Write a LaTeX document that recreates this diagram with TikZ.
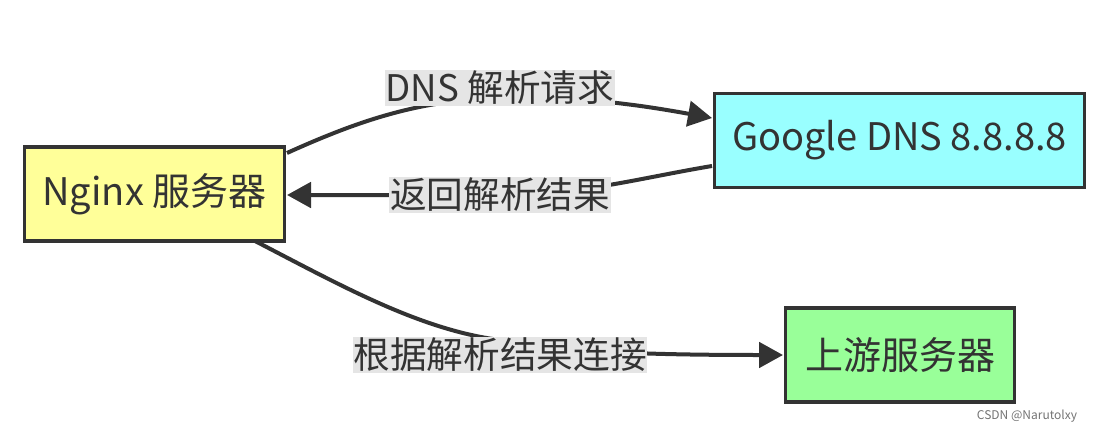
\documentclass[tikz,border=0pt]{standalone}
\usepackage{fontspec}
\setmainfont{Noto Sans CJK SC}
\usetikzlibrary{arrows.meta}
\begin{document}
\begin{tikzpicture}[x=0.75pt,y=-0.75pt,
  box/.style={draw=black!80,line width=2.4pt,minimum height=70.5pt,inner sep=0pt,font=\fontsize{28.5}{32}\selectfont,text=black!80},
  lbl/.style={fill=black!10,inner sep=0.5pt,font=\fontsize{27.5}{30}\selectfont,text=black!80},
  edge/.style={draw=black!80,line width=3pt,-{Triangle[length=18pt,width=19pt]}}]
\useasboundingbox (0,0) rectangle (1105,435);
\node[box,fill={rgb,255:red,255;green,255;blue,153},minimum width=195pt] (n) at (154.5,194) {Nginx 服务器};
\node[box,fill={rgb,255:red,153;green,255;blue,255},minimum width=278pt] (g) at (899.5,140.5) {Google DNS 8.8.8.8};
\node[box,fill={rgb,255:red,153;green,255;blue,153},minimum width=172pt] (u) at (900,355) {上游服务器};
\coordinate (a1) at (287,153);
\coordinate (a2) at (712,118);
\coordinate (b1) at (712,166);
\coordinate (b2) at (287,195);
\coordinate (c1) at (255,241);
\coordinate (c2) at (783,355);
\draw[edge] (a1) .. controls (360,120) and (420,100) .. (500,98) .. controls (580,96) and (640,105) .. (a2);
\node[lbl] (l1) at (500,88) {DNS 解析请求};
\draw[edge] (b1) .. controls (640,178) and (580,195) .. (500,195) -- (b2);
\node[lbl] (l2) at (500,195) {返回解析结果};
\draw[edge] (c1) .. controls (340,285) and (420,330) .. (500,340) .. controls (560,352) and (650,355) .. (c2);
\node[lbl] (l3) at (500,355) {根据解析结果连接};
\node[font=\fontsize{9}{10}\selectfont,text=black!55] (w) at (1027,416) {CSDN @Narutolxy};
\end{tikzpicture}
\end{document}
